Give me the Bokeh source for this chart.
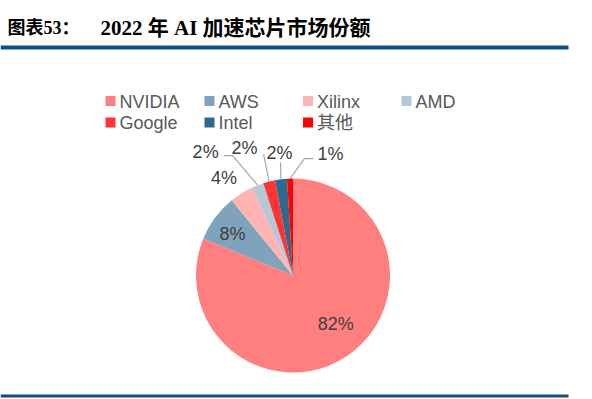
import numpy as np
from bokeh.plotting import figure
from bokeh.models import Range1d, ColumnDataSource
from bokeh.core.properties import value
from bokeh.embed import file_html
from bokeh.resources import INLINE

# ---------------- data ----------------
title_prefix = "图表53："
title_main = "2022 年 AI 加速芯片市场份额"
categories = ["NVIDIA", "AWS", "Xilinx", "AMD", "Google", "Intel", "其他"]
shares = [82, 8, 4, 2, 2, 2, 1]
colors = ["#FF7F7F", "#7FA3BD", "#FFB3B3", "#B4C8D8", "#FF3333", "#2E6A8E", "#FF0000"]

# ---------------- layout ----------------
W, H = 584, 399


def X(rx):
    return rx


def Y(ry):
    return H - ry


CX, CY, R = 292.5, 275.0, 97.0
SANS = value("Liberation Sans, Noto Sans CJK SC")
SERIF = value("Liberation Serif, Noto Sans CJK SC")
TXT = "#404040"

p = figure(width=W, height=H, x_range=Range1d(0, W), y_range=Range1d(0, H),
           output_backend="svg", toolbar_location=None, min_border=0,
           x_axis_location=None, y_axis_location=None,
           background_fill_color="white", border_fill_color="white")
p.grid.visible = False
p.outline_line_color = None

# title
p.text(x=[X(7)], y=[Y(27)], text=[title_prefix], text_font=SERIF,
       text_font_style="bold", text_font_size="18px", text_baseline="middle", text_color="#000000")
p.text(x=[X(100)], y=[Y(27)], text=[title_main], text_font=SERIF,
       text_font_style="bold", text_font_size="21px", text_baseline="middle", text_color="#000000")

# rules
p.segment(x0=[0], y0=[Y(47)], x1=[X(568)], y1=[Y(47)], line_color="#0F4F86", line_width=4)
p.segment(x0=[0], y0=[Y(395.5)], x1=[X(568)], y1=[Y(395.5)], line_color="#0F4F86", line_width=3)

# pie
vals = np.array(shares, dtype=float)
frac = vals / vals.sum()
cum = np.concatenate([[0.0], np.cumsum(frac)])
start = np.pi / 2 - 2 * np.pi * cum[:-1]
end = np.pi / 2 - 2 * np.pi * cum[1:]
mid = (start + end) / 2
src = ColumnDataSource(dict(start=start, end=end, color=colors, cat=categories))
p.wedge(x=X(CX), y=Y(CY), radius=R, radius_units="screen", start_angle="start", end_angle="end",
        direction="clock", fill_color="color", line_color=None, source=src)

# edge points of each slice (figure coords)
ex = X(CX) + R * np.cos(mid)
ey = Y(CY) + R * np.sin(mid)

# label offsets from slice edge (screen px, y up) and leader elbows
inside = {0: (0.66, 7, 5), 1: (0.75, -2, -2)}
label_off = {2: (-17.5, 15), 3: (-52, 33), 4: (-24.5, 33), 5: (-1.5, 26), 6: (40.5, 25)}
leaders = {
    3: [(-25, 29.5), (-34, 29.5)],
    4: [(-5.5, 27)],
    5: [(-0.5, 17)],
    6: [(14.5, 20), (23.5, 20)],
}
lx, ly, lt = [], [], []
for i, s in enumerate(shares):
    if i in inside:
        f, ddx, ddy = inside[i]
        r = f * R
        lx.append(X(CX) + r * np.cos(mid[i]) + ddx)
        ly.append(Y(CY) + r * np.sin(mid[i]) + ddy)
    else:
        dx, dy = label_off[i]
        lx.append(ex[i] + dx)
        ly.append(ey[i] + dy)
    lt.append(f"{s}%")

xs, ys = [], []
for i, pts in leaders.items():
    xs.append([ex[i]] + [ex[i] + a for a, b in pts])
    ys.append([ey[i]] + [ey[i] + b for a, b in pts])
p.multi_line(xs=xs, ys=ys, line_color="#A6A6A6", line_width=1.2)

p.text(x=lx, y=ly, text=lt, text_font=SANS, text_font_size="18px", text_color=TXT,
       text_align="center", text_baseline="middle")

# legend
col_x = [110, 209, 307.5, 406]
row_y = [100.5, 122]
gx, gy = [], []
for i in range(len(categories)):
    gx.append(X(col_x[i % 4]))
    gy.append(Y(row_y[i // 4]))
p.rect(x=gx, y=gy, width=10, height=10, width_units="screen", height_units="screen",
       fill_color=colors, line_color=None)
p.text(x=[g + 9 for g in gx], y=[g - 0.5 for g in gy], text=categories, text_font=SANS,
       text_font_size="18px", text_color="#595959", text_baseline="middle")

open("out.html", "w").write(file_html(p, INLINE))
